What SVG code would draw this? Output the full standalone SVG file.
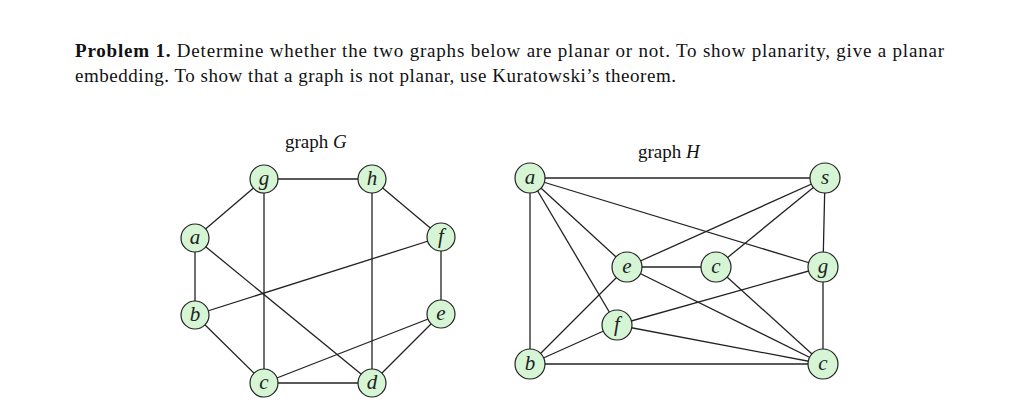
<svg xmlns="http://www.w3.org/2000/svg" width="1017" height="418" viewBox="0 0 1017 418">
<style>
.t{font-family:"Liberation Serif",serif;font-size:19px;fill:#111}
.b{font-weight:bold}
.n circle{fill:#d5f5d5;stroke:#222;stroke-width:1.2}
.n text{font-family:"Liberation Serif",serif;font-style:italic;font-size:21px;text-anchor:middle;fill:#222}
.e line{stroke:#222;stroke-width:1.3}
</style>
<rect width="1017" height="418" fill="#fff"/>
<text class="t" x="75" y="57" textLength="869" lengthAdjust="spacing"><tspan class="b">Problem 1.</tspan> Determine whether the two graphs below are planar or not. To show planarity, give a planar</text>
<text class="t" x="75" y="82" textLength="601" lengthAdjust="spacing">embedding. To show that a graph is not planar, use Kuratowski’s theorem.</text>
<text class="t" x="285" y="148" font-size="19.5">graph <tspan font-style="italic">G</tspan></text>
<text class="t" x="638" y="158" font-size="19.5">graph <tspan font-style="italic">H</tspan></text>
<g class="e" id="connectors">
<line x1="264" y1="179" x2="372" y2="179"/><line x1="195" y1="238" x2="264" y2="179"/>
<line x1="372" y1="179" x2="441" y2="237"/><line x1="195" y1="238" x2="195" y2="315"/>
<line x1="441" y1="237" x2="441" y2="314"/><line x1="195" y1="315" x2="264" y2="383"/>
<line x1="441" y1="314" x2="372" y2="383"/><line x1="264" y1="383" x2="372" y2="383"/>
<line x1="264" y1="179" x2="264" y2="383"/><line x1="372" y1="179" x2="372" y2="383"/>
<line x1="195" y1="238" x2="372" y2="383"/><line x1="195" y1="315" x2="441" y2="237"/>
<line x1="264" y1="383" x2="441" y2="314"/>
<line x1="530" y1="178" x2="825" y2="178"/><line x1="530" y1="178" x2="530" y2="364"/>
<line x1="825" y1="178" x2="823" y2="267"/><line x1="823" y1="267" x2="823" y2="364"/>
<line x1="530" y1="364" x2="823" y2="364"/><line x1="530" y1="178" x2="627" y2="267"/>
<line x1="530" y1="178" x2="617" y2="325"/><line x1="530" y1="178" x2="823" y2="267"/>
<line x1="825" y1="178" x2="627" y2="267"/><line x1="825" y1="178" x2="716" y2="267"/>
<line x1="627" y1="267" x2="716" y2="267"/><line x1="627" y1="267" x2="823" y2="364"/>
<line x1="716" y1="267" x2="823" y2="364"/><line x1="530" y1="364" x2="627" y2="267"/>
<line x1="530" y1="364" x2="617" y2="325"/><line x1="617" y1="325" x2="823" y2="267"/>
<line x1="617" y1="325" x2="823" y2="364"/>
</g>
<g class="n" id="G-g"><circle cx="264" cy="179" r="14"/><text x="264" y="185">g</text></g>
<g class="n" id="G-h"><circle cx="372" cy="179" r="14"/><text x="372" y="185">h</text></g>
<g class="n" id="G-a"><circle cx="195" cy="238" r="14"/><text x="195" y="244">a</text></g>
<g class="n" id="G-f"><circle cx="441" cy="237" r="14"/><text x="441" y="243">f</text></g>
<g class="n" id="G-b"><circle cx="195" cy="315" r="14"/><text x="195" y="321">b</text></g>
<g class="n" id="G-e"><circle cx="441" cy="314" r="14"/><text x="441" y="320">e</text></g>
<g class="n" id="G-c"><circle cx="264" cy="383" r="14"/><text x="264" y="389">c</text></g>
<g class="n" id="G-d"><circle cx="372" cy="383" r="14"/><text x="372" y="389">d</text></g>
<g class="n" id="H-a"><circle cx="530" cy="178" r="15"/><text x="530" y="184">a</text></g>
<g class="n" id="H-s"><circle cx="825" cy="178" r="15"/><text x="825" y="184">s</text></g>
<g class="n" id="H-e"><circle cx="627" cy="267" r="15"/><text x="627" y="273">e</text></g>
<g class="n" id="H-c2"><circle cx="716" cy="267" r="15"/><text x="716" y="273">c</text></g>
<g class="n" id="H-g"><circle cx="823" cy="267" r="15"/><text x="823" y="273">g</text></g>
<g class="n" id="H-f"><circle cx="617" cy="325" r="15"/><text x="617" y="331">f</text></g>
<g class="n" id="H-b"><circle cx="530" cy="364" r="15"/><text x="530" y="370">b</text></g>
<g class="n" id="H-c"><circle cx="823" cy="364" r="15"/><text x="823" y="370">c</text></g>
</svg>
